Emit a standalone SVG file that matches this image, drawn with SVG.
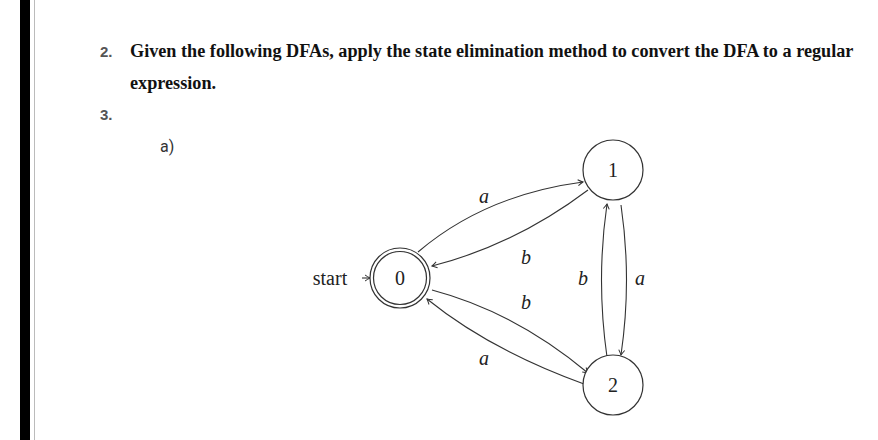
<svg xmlns="http://www.w3.org/2000/svg" width="878" height="440" viewBox="0 0 878 440">
<style>
.h{font-family:"Liberation Serif",serif;font-weight:bold;font-size:18.2px;fill:#111}
.n{font-family:"Liberation Sans",sans-serif;font-weight:bold;font-size:15px;fill:#555}
.m{font-family:"Liberation Serif",serif;font-size:20px;fill:#222}
.i{font-family:"Liberation Serif",serif;font-style:italic;font-size:20px;fill:#222}
.c{fill:#fff;stroke:#333;stroke-width:1.2}
.e{fill:none;stroke:#333;stroke-width:1.1;marker-end:url(#ah)}
</style>
<defs><marker id="ah" markerWidth="8" markerHeight="8" refX="6" refY="4" orient="auto" markerUnits="userSpaceOnUse"><path d="M1,1 Q4,3 6,4 Q4,5 1,7" fill="none" stroke="#333" stroke-width="1"/></marker></defs>
<rect x="0" y="0" width="878" height="440" fill="#fff"/>
<rect x="20" y="0" width="10" height="440" fill="#000"/>
<rect x="34" y="0" width="1" height="440" fill="#bbb"/>
<text class="n" x="100" y="57">2.</text>
<text class="h" x="130" y="57">Given the following DFAs, apply the state elimination method to convert the DFA to a regular</text>
<text class="h" x="130" y="89">expression.</text>
<text class="n" x="100" y="120">3.</text>
<text x="160" y="152" font-family="Roboto,sans-serif" font-size="16" fill="#333">a)</text>
<g id="connectors">
<path class="e" d="M362,278 L370,278"/>
<path class="e" d="M418,252 Q485,195 583,182"/>
<path class="e" d="M588,190 Q515,245 432,266"/>
<path class="e" d="M432,290 Q515,312 588,373"/>
<path class="e" d="M584,384 Q490,350 427,299"/>
<path class="e" d="M607,357 Q596,280 607,204"/>
<path class="e" d="M621,205 Q632,280 621,355"/>
</g>
<g id="node0"><circle class="c" cx="400" cy="278" r="30"/><circle class="c" cx="400" cy="278" r="26.5"/><text class="m" x="400" y="285" text-anchor="middle">0</text></g>
<g id="node1"><circle class="c" cx="613" cy="170" r="30"/><text class="m" x="613" y="177" text-anchor="middle">1</text></g>
<g id="node2"><circle class="c" cx="613" cy="385" r="30"/><text class="m" x="613" y="392" text-anchor="middle">2</text></g>
<g id="labels">
<text class="m" x="330" y="285" text-anchor="middle">start</text>
<text class="i" x="484" y="203" text-anchor="middle">a</text>
<text class="i" x="526" y="264" text-anchor="middle">b</text>
<text class="i" x="526" y="309" text-anchor="middle">b</text>
<text class="i" x="484" y="365" text-anchor="middle">a</text>
<text class="i" x="583" y="285" text-anchor="middle">b</text>
<text class="i" x="640" y="285" text-anchor="middle">a</text>
</g>
</svg>
